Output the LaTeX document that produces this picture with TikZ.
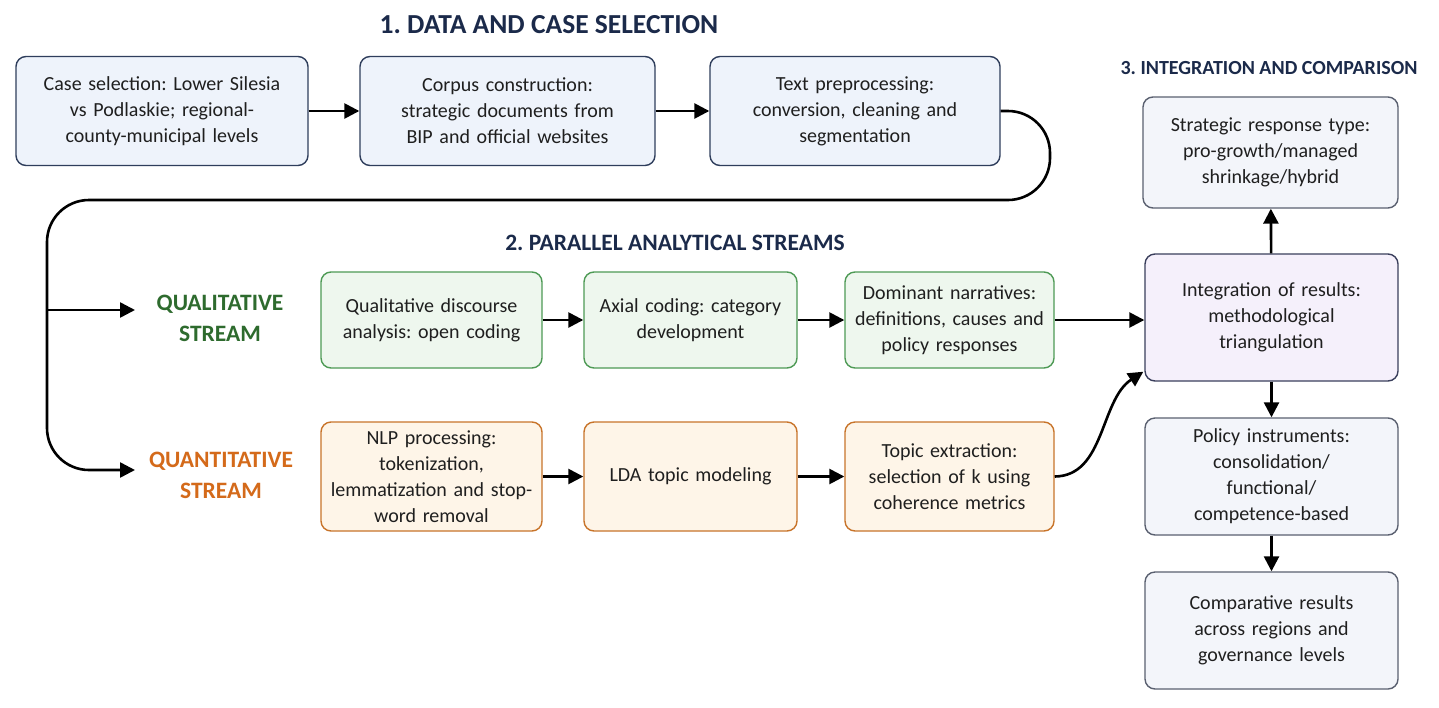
\documentclass[tikz,border=0pt]{standalone}
\usepackage{fontspec}
\setmainfont{Carlito}
\frenchspacing
\usetikzlibrary{arrows.meta,calc}
\definecolor{navy}{HTML}{1B2A4A}
\definecolor{bluefill}{HTML}{EEF3FB}
\definecolor{blueline}{HTML}{2F3E5C}
\definecolor{greenfill}{HTML}{EEF7EE}
\definecolor{greenline}{HTML}{4E9A55}
\definecolor{orangefill}{HTML}{FEF5E8}
\definecolor{orangeline}{HTML}{C8742A}
\definecolor{lavfill}{HTML}{F5F0FB}
\definecolor{lavline}{HTML}{3A3F5C}
\definecolor{greyfill}{HTML}{F3F5FA}
\definecolor{greyline}{HTML}{5A6070}
\definecolor{qualgreen}{HTML}{2E6B2E}
\definecolor{quanorange}{HTML}{D46A1A}
\tikzset{
  box/.style={rounded corners=10pt, line width=1.4pt, align=center, inner sep=0pt,
    font=\fontsize{20}{26}\selectfont, text=black!88},
  bluebox/.style={box, fill=bluefill, draw=blueline},
  greenbox/.style={box, fill=greenfill, draw=greenline},
  orangebox/.style={box, fill=orangefill, draw=orangeline},
  lavbox/.style={box, fill=lavfill, draw=lavline},
  greybox/.style={box, fill=greyfill, draw=greyline},
  heading/.style={font=\bfseries\fontsize{27.5}{32}\selectfont, text=navy, inner sep=0pt},
  streamlabel/.style={font=\bfseries\fontsize{23.5}{31}\selectfont, align=center, inner sep=0pt},
  conn/.style={line width=2.6pt, -{Triangle[length=15pt,width=15pt]}},
}
\begin{document}
\begin{tikzpicture}[x=1pt,y=-1pt]
\fill[white] (0,0) rectangle (1439,707);
\useasboundingbox (0,0) rectangle (1439,707);

% headings
\node[heading] (h1) at (549,25) {1. DATA AND CASE SELECTION};
\node[heading, font=\bfseries\fontsize{23.5}{28}\selectfont] (h2) at (675,243) {2. PARALLEL ANALYTICAL STREAMS};
\node[heading, font=\bfseries\fontsize{20}{24}\selectfont] (h3) at (1269,68) {3. INTEGRATION AND COMPARISON};

% row 1
\node[bluebox, minimum width=292pt, minimum height=109pt, text width=270pt] (A) at (162,111)
  {Case selection: Lower Silesia\\ vs Podlaskie; regional-\\ county-municipal levels};
\node[bluebox, minimum width=295pt, minimum height=109pt, text width=270pt] (B) at (507.5,111)
  {Corpus construction:\\ strategic documents from\\ BIP and official websites};
\node[bluebox, minimum width=290pt, minimum height=109pt, text width=270pt] (C) at (855,111)
  {Text preprocessing:\\ conversion, cleaning and\\ segmentation};

% stream labels
\node[streamlabel, text=qualgreen] (qual) at (220,318) {QUALITATIVE\\ STREAM};
\node[streamlabel, text=quanorange] (quan) at (221,475) {QUANTITATIVE\\ STREAM};
\coordinate (qualin) at (135,310);
\coordinate (quanin) at (135,470);

% qualitative row
\node[greenbox, minimum width=221pt, minimum height=96pt, text width=205pt] (D) at (431.5,320)
  {Qualitative discourse\\ analysis: open coding};
\node[greenbox, minimum width=213pt, minimum height=96pt, text width=200pt] (E) at (690.5,320)
  {Axial coding: category\\ development};
\node[greenbox, minimum width=209pt, minimum height=96pt, text width=200pt] (F) at (949.5,320)
  {Dominant narratives:\\ definitions, causes and\\ policy responses};

% quantitative row
\node[orangebox, minimum width=221pt, minimum height=109pt, text width=205pt] (G) at (431.5,476.5)
  {NLP processing:\\ tokenization,\\ lemmatization and stop-\\ word removal};
\node[orangebox, minimum width=213pt, minimum height=109pt, text width=200pt] (H) at (690.5,476.5)
  {LDA topic modeling};
\node[orangebox, minimum width=209pt, minimum height=109pt, text width=200pt] (I) at (949.5,476.5)
  {Topic extraction:\\ selection of k using\\ coherence metrics};

% right column
\node[greybox, minimum width=255pt, minimum height=111pt, text width=240pt] (J) at (1270.5,152.5)
  {Strategic response type:\\ pro-growth/managed\\ shrinkage/hybrid};
\node[lavbox, minimum width=253pt, minimum height=127pt, text width=240pt] (K) at (1271.5,317.5)
  {Integration of results:\\ methodological\\ triangulation};
\node[greybox, minimum width=253pt, minimum height=117pt, text width=240pt] (L) at (1271.5,476.5)
  {Policy instruments:\\ consolidation/\\ functional/\\ competence-based};
\node[greybox, minimum width=253pt, minimum height=117pt, text width=240pt] (M) at (1271.5,630.5)
  {Comparative results\\ across regions and\\ governance levels};

% connectors row 1
\draw[conn] (A) -- (B);
\draw[conn] (B) -- (C);
\draw[conn, rounded corners=42pt] (C.east) -- (1050,111) -- (1050,200) -- (47,200) -- (47,470) -- (quanin);
\coordinate (br) at (47,310);
\draw[conn] (br) -- (qualin);

% stream connectors
\draw[conn] (D) -- (E);
\draw[conn] (E) -- (F);
\draw[conn] (F.east) -- (K.west |- F.east);
\draw[conn] (G) -- (H);
\draw[conn] (H) -- (I);
\draw[conn] (I.east) .. controls (1105,476) and (1100,400) .. ([shift={(-1pt,10pt)}]K.south west);

% right column connectors
\draw[conn] (K) -- (J);
\draw[conn] (K) -- (L);
\draw[conn] (L) -- (M);
\end{tikzpicture}
\end{document}
